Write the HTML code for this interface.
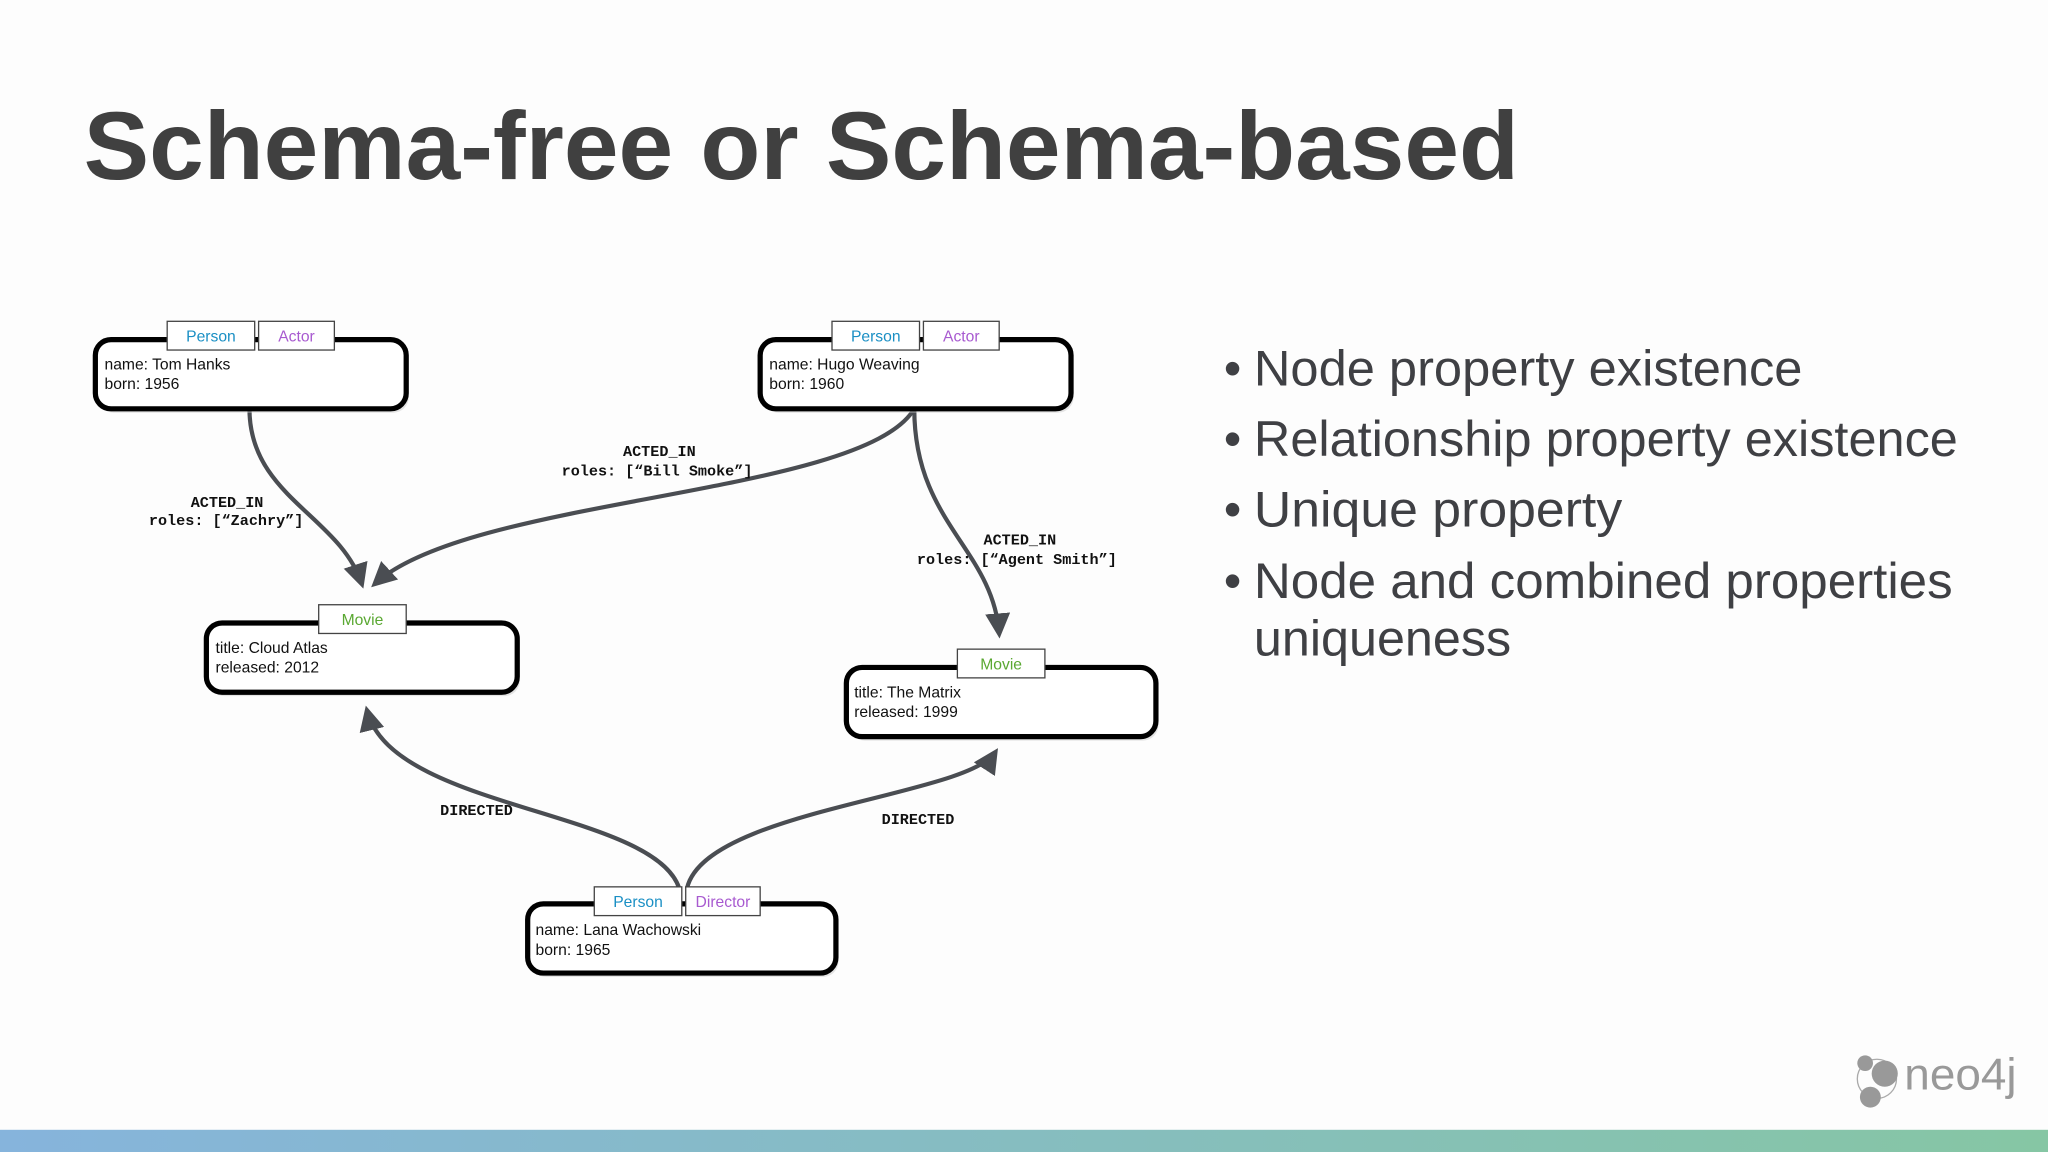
<!DOCTYPE html>
<html><head><meta charset="utf-8"><style>
html,body{margin:0;padding:0;background:#fff;overflow:hidden}
svg{display:block}
</style></head><body>
<svg width="2048" height="1152" viewBox="0 0 1568 882" xmlns="http://www.w3.org/2000/svg">
<defs>
<linearGradient id="bar" x1="0" x2="1" y1="0" y2="0">
<stop offset="0" stop-color="#86b4dc"/><stop offset="1" stop-color="#86c6a4"/>
</linearGradient>
<marker id="ah" viewBox="0 0 10 10" refX="8" refY="5" markerWidth="6" markerHeight="6" orient="auto-start-reverse" markerUnits="strokeWidth">
<path d="M0,0 L10,5 L0,10 z" fill="#4a4d52"/>
</marker>
</defs>
<rect width="1568" height="882" fill="#fdfdfd"/>
<text x="64" y="137" font-family="Liberation Sans, sans-serif" font-weight="bold" font-size="74" fill="#404040" textLength="1099" lengthAdjust="spacingAndGlyphs">Schema-free or Schema-based</text>

<g font-family="Liberation Sans, sans-serif" font-size="38" fill="#3f4044">
<text x="937" y="295">•</text><text x="960" y="295" textLength="420" lengthAdjust="spacingAndGlyphs">Node property existence</text>
<text x="937" y="349">•</text><text x="960" y="349" textLength="539" lengthAdjust="spacingAndGlyphs">Relationship property existence</text>
<text x="937" y="403">•</text><text x="960" y="403" textLength="282" lengthAdjust="spacingAndGlyphs">Unique property</text>
<text x="937" y="458">•</text><text x="960" y="458" textLength="535" lengthAdjust="spacingAndGlyphs">Node and combined properties</text>
<text x="960" y="502" textLength="197" lengthAdjust="spacingAndGlyphs">uniqueness</text>
</g>

<!-- edges -->
<g fill="none" stroke="#4a4d52" stroke-width="3.2">
<path d="M191,313 C191,380 260,395 277,447" marker-end="url(#ah)"/>
<path d="M700,313 C660,380 360,380 287,447" marker-end="url(#ah)"/>
<path d="M700,313 C700,400 760,420 765,485" marker-end="url(#ah)"/>
<path d="M520,680 C500,620 300,620 281,544" marker-end="url(#ah)"/>
<path d="M526,680 C540,620 740,610 762,576" marker-end="url(#ah)"/>
</g>
<g font-family="Liberation Mono, monospace" font-weight="bold" font-size="11.6" fill="#111">
<text x="146" y="388">ACTED_IN</text><text x="114" y="402">roles: [“Zachry”]</text>
<text x="477" y="349">ACTED_IN</text><text x="430" y="364">roles: [“Bill Smoke”]</text>
<text x="753" y="417">ACTED_IN</text><text x="702" y="432">roles: [“Agent Smith”]</text>
<text x="337" y="624">DIRECTED</text>
<text x="675" y="631">DIRECTED</text>
</g>

<!-- nodes -->
<g font-family="Liberation Sans, sans-serif" font-size="12" fill="#111">
<g>
<rect x="75" y="263" width="238" height="53" rx="12" fill="#ccc" opacity="0.5"/>
<rect x="73" y="260" width="238" height="53" rx="12" fill="#fff" stroke="#000" stroke-width="4"/>
<text x="80" y="283">name: Tom Hanks</text><text x="80" y="298">born: 1956</text>
<rect x="128" y="246" width="67" height="22" fill="#fff" stroke="#444"/><text x="161.5" y="261.5" text-anchor="middle" fill="#1a8fc4">Person</text>
<rect x="198" y="246" width="58" height="22" fill="#fff" stroke="#444"/><text x="227" y="261.5" text-anchor="middle" fill="#a85ad0">Actor</text>
</g>
<g>
<rect x="584" y="263" width="238" height="53" rx="12" fill="#ccc" opacity="0.5"/>
<rect x="582" y="260" width="238" height="53" rx="12" fill="#fff" stroke="#000" stroke-width="4"/>
<text x="589" y="283">name: Hugo Weaving</text><text x="589" y="298">born: 1960</text>
<rect x="637" y="246" width="67" height="22" fill="#fff" stroke="#444"/><text x="670.5" y="261.5" text-anchor="middle" fill="#1a8fc4">Person</text>
<rect x="707" y="246" width="58" height="22" fill="#fff" stroke="#444"/><text x="736" y="261.5" text-anchor="middle" fill="#a85ad0">Actor</text>
</g>
<g>
<rect x="160" y="480" width="238" height="53" rx="12" fill="#ccc" opacity="0.5"/>
<rect x="158" y="477" width="238" height="53" rx="12" fill="#fff" stroke="#000" stroke-width="4"/>
<text x="165" y="500">title: Cloud Atlas</text><text x="165" y="515">released: 2012</text>
<rect x="244" y="463" width="67" height="22" fill="#fff" stroke="#444"/><text x="277.5" y="478.5" text-anchor="middle" fill="#5aa832">Movie</text>
</g>
<g>
<rect x="650" y="514" width="237" height="53" rx="12" fill="#ccc" opacity="0.5"/>
<rect x="648" y="511" width="237" height="53" rx="12" fill="#fff" stroke="#000" stroke-width="4"/>
<text x="654" y="534">title: The Matrix</text><text x="654" y="549">released: 1999</text>
<rect x="733" y="497" width="67" height="22" fill="#fff" stroke="#444"/><text x="766.5" y="512.5" text-anchor="middle" fill="#5aa832">Movie</text>
</g>
<g>
<rect x="406" y="695" width="236" height="53" rx="12" fill="#ccc" opacity="0.5"/>
<rect x="404" y="692" width="236" height="53" rx="12" fill="#fff" stroke="#000" stroke-width="4"/>
<text x="410" y="716">name: Lana Wachowski</text><text x="410" y="731">born: 1965</text>
<rect x="455" y="679" width="67" height="22" fill="#fff" stroke="#444"/><text x="488.5" y="694.5" text-anchor="middle" fill="#1a8fc4">Person</text>
<rect x="525" y="679" width="57" height="22" fill="#fff" stroke="#444"/><text x="553.5" y="694.5" text-anchor="middle" fill="#a85ad0">Director</text>
</g>
</g>

<!-- logo -->
<g fill="#999">
<circle cx="1437" cy="826" r="15" fill="none" stroke="#aaa" stroke-width="1"/>
<circle cx="1428" cy="814" r="6"/>
<circle cx="1443" cy="822" r="10"/>
<circle cx="1432" cy="840" r="8"/>
<text x="1458" y="834" font-family="Liberation Sans, sans-serif" font-size="34" fill="#999" textLength="86" lengthAdjust="spacingAndGlyphs">neo4j</text>
</g>
<rect x="0" y="865" width="1568" height="17" fill="url(#bar)"/>
</svg>
</body></html>
